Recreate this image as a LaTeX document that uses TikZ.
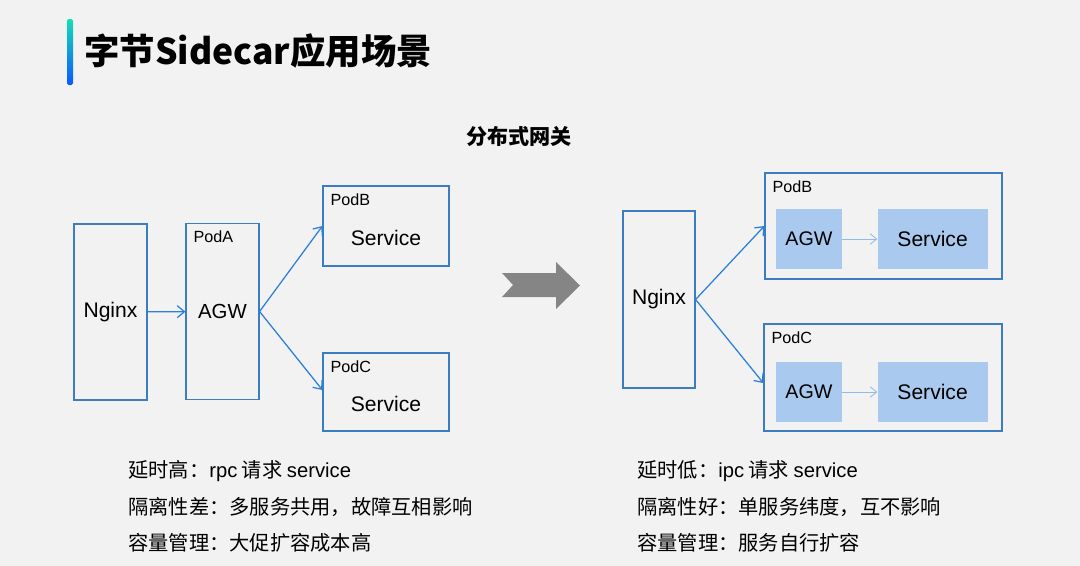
\documentclass[tikz,border=0pt]{standalone}
\usepackage{fontspec}
\setmainfont{Noto Sans CJK SC}
\newfontfamily\latin{Liberation Sans}
\usetikzlibrary{positioning, arrows.meta, shadings}

\definecolor{bgray}{HTML}{F2F2F2}
\definecolor{boxblue}{HTML}{3C7CC0}
\definecolor{arrowblue}{HTML}{2B80DC}
\definecolor{cellblue}{HTML}{A9CAEE}
\definecolor{cellarrow}{HTML}{8EBBEA}
\definecolor{shiftgray}{HTML}{858585}
\definecolor{barteal}{HTML}{17DDB2}
\definecolor{barblue}{HTML}{0A58FF}

\begin{document}
\begin{tikzpicture}[
    x=0.025cm, y=-0.025cm,
    podbox/.style={rectangle, draw=boxblue, line width=0.8pt, font=\latin\fontsize{15}{18}\selectfont},
    cell/.style={rectangle, fill=cellblue, minimum height=1.5cm, font=\latin\fontsize{14}{17}\selectfont},
    podlabel/.style={anchor=north west, inner sep=0pt, xshift=0.2cm, yshift=-0.2cm, font=\latin\fontsize{11.5}{14}\selectfont},
    remark/.style={anchor=west, inner sep=0pt, font=\fontsize{14.4}{17}\selectfont},
    arrow/.style={draw=arrowblue, line width=0.9pt, -{Straight Barb[length=1.8mm, width=3mm]}},
    cellarr/.style={draw=cellarrow, line width=0.6pt, -{Straight Barb[length=1.6mm, width=2.6mm]}}
]
\fill[bgray] (0,0) rectangle (1080,566);
\useasboundingbox (0,0) rectangle (1080,566);

% Header
\shade[top color=barteal, bottom color=barblue, rounded corners=1.2pt] (67,19) rectangle (73,85);
\node[anchor=west, inner sep=0pt, font=\bfseries\fontsize{25.2}{29}\selectfont] (title) at (84,51) {字节Sidecar应用场景};
\node[font=\bfseries\fontsize{15}{18}\selectfont] (subtitle) at (519,136) {分布式网关};

% Nodes (before)
\node[podbox, minimum width=1.825cm, minimum height=4.4cm] (nginxA) at (110.5,312) {Nginx};
\node[podbox, minimum width=1.825cm, minimum height=4.4cm, font=\latin\fontsize{14.5}{17}\selectfont,
      label={[podlabel]north west:PodA}] (podA) at (222.5,311.5) {AGW};
\node[podbox, minimum width=3.15cm, minimum height=2cm,
      label={[podlabel]north west:PodB},
      label={[font=\latin\fontsize{15}{18}\selectfont, yshift=-0.3cm]center:Service}] (podB) at (386,226) {};
\node[podbox, minimum width=3.15cm, minimum height=1.95cm,
      label={[podlabel]north west:PodC},
      label={[font=\latin\fontsize{15}{18}\selectfont, yshift=-0.3cm]center:Service}] (podC) at (386,392) {};

% Shift arrow
\fill[shiftgray] (502,273) -- (556,273) -- (556,262) -- (580,285.5) -- (556,309)
    -- (556,297) -- (502,297) -- (513,285) -- cycle;

% Nodes (after)
\node[podbox, minimum width=1.8cm, minimum height=4.425cm] (nginxB) at (659,299.5) {Nginx};
\node[podbox, minimum width=5.925cm, minimum height=2.65cm,
      label={[podlabel]north west:PodB}] (podBB) at (883.5,226) {};
\node[podbox, minimum width=5.95cm, minimum height=2.675cm,
      label={[podlabel]north west:PodC}] (podCC) at (883,377.5) {};
\node[cell, minimum width=1.65cm] (agwB) at (809,239) {AGW};
\node[cell, minimum width=2.75cm, right=0.875cm of agwB, font=\latin\fontsize{15}{18}\selectfont] (svcB) {Service};
\node[cell, minimum width=1.65cm] (agwC) at (809,392) {AGW};
\node[cell, minimum width=2.75cm, right=0.875cm of agwC, font=\latin\fontsize{15}{18}\selectfont] (svcC) {Service};

% Arrows
\draw[arrow] (nginxA) -- (podA);
\draw[arrow] (podA.east) -- (podB.west);
\draw[arrow] (podA.east) -- ([yshift=0.05cm]podC.west);
\draw[arrow] (nginxB.east) -- (podBB.west);
\draw[arrow] (nginxB.east) -- ([yshift=-0.14cm]podCC.west);
\draw[cellarr] (agwB) -- (svcB);
\draw[cellarr] (agwC) -- (svcC);

% Remarks
\node[remark] (lat1) at (128,471) {延时高：{\latin rpc} 请求 {\latin service}};
\node[remark] (iso1) at (128,507) {隔离性差：多服务共用，故障互相影响};
\node[remark] (cap1) at (128,543) {容量管理：大促扩容成本高};
\node[remark] (lat2) at (637,471) {延时低：{\latin ipc} 请求 {\latin service}};
\node[remark] (iso2) at (637,507) {隔离性好：单服务纬度，互不影响};
\node[remark] (cap2) at (637,543) {容量管理：服务自行扩容};
\end{tikzpicture}
\end{document}
